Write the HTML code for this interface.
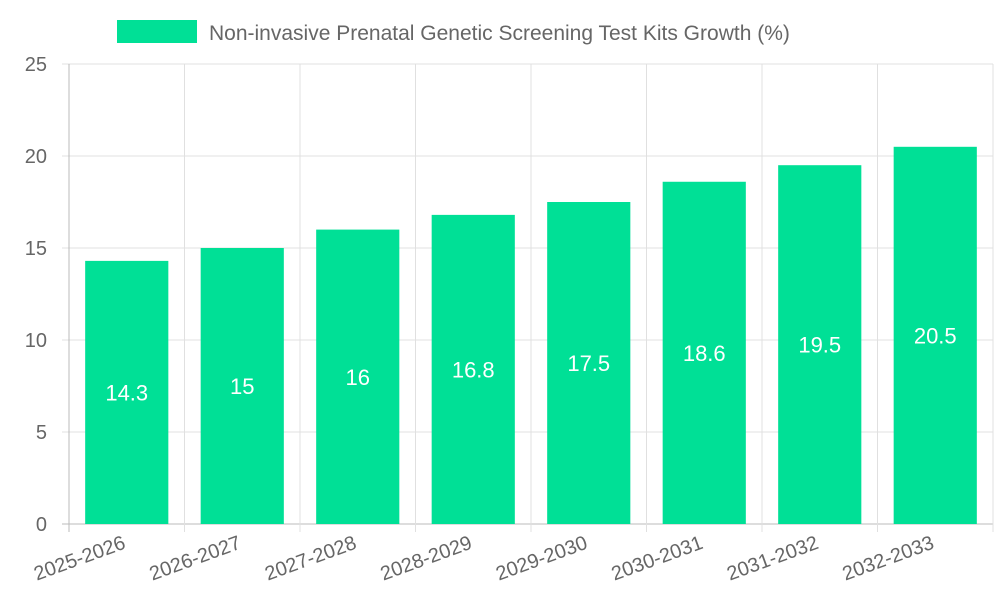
<!DOCTYPE html>
<html><head><meta charset="utf-8"><style>
body{margin:0;background:#fff;width:1000px;height:600px;overflow:hidden}
svg{font-family:"Liberation Sans",Arial,sans-serif}
</style></head><body>
<svg id="chart" width="1000" height="600" xmlns="http://www.w3.org/2000/svg">
<g id="grid"></g>
<g id="bars"></g>
<g id="labels"></g>
<g>
<rect x="117" y="20" width="80" height="23" fill="#00e096"/>
<text x="209" y="40" font-size="21" fill="#666">Non-invasive Prenatal Genetic Screening Test Kits Growth (%)</text>
</g>
</svg>
<script>
const categories=["2025-2026","2026-2027","2027-2028","2028-2029","2029-2030","2030-2031","2031-2032","2032-2033"];
const values=[14.3,15,16,16.8,17.5,18.6,19.5,20.5];
const yTicks=[0,5,10,15,20,25];
const X0=69,X1=993,Y0=524,Y1=64,YMAX=25;
const NS="http://www.w3.org/2000/svg";
const bw=(X1-X0)/categories.length;
const y=v=>Y0-(v/YMAX)*(Y0-Y1);
const x=i=>X0+i*bw;
function mk(tag,attrs,parent){const e=document.createElementNS(NS,tag);for(const k in attrs)e.setAttribute(k,attrs[k]);parent.appendChild(e);return e;}
const grid=document.getElementById('grid'),bars=document.getElementById('bars'),labels=document.getElementById('labels');
yTicks.forEach(t=>{
 const l=mk('line',{x1:X0-7,x2:X1,y1:y(t),y2:y(t),stroke:t===0?'#bbb':'#e0e0e0','stroke-width':1},grid);
 
 
 const tx=mk('text',{x:47,y:y(t)+7,'text-anchor':'end','font-size':20,fill:'#666'},grid);
 tx.textContent=t;
 
 
});
for(let i=0;i<=categories.length;i++){
 const l=mk('line',{x1:x(i),x2:x(i),y1:Y1,y2:Y0+8,stroke:i===0?'#bbb':'#e0e0e0','stroke-width':1},grid);
 
 
}
categories.forEach((c,i)=>{
 const cx=x(i)+bw/2,w=bw*0.72;
 const r=mk('rect',{x:cx-w/2,y:y(values[i]),width:w,height:Y0-y(values[i]),fill:'#00e096'},bars);
 
 
 const v=mk('text',{x:cx,y:(y(values[i])+Y0)/2+8,'text-anchor':'middle','font-size':22,fill:'#fff'},labels);
 v.textContent=values[i];
 
 
 const t=mk('text',{x:cx,y:548,'text-anchor':'end','font-size':20,fill:'#666',transform:`rotate(-20 ${cx} 548)`},labels);
 t.textContent=c;
 
 
});
</script>
</body></html>
